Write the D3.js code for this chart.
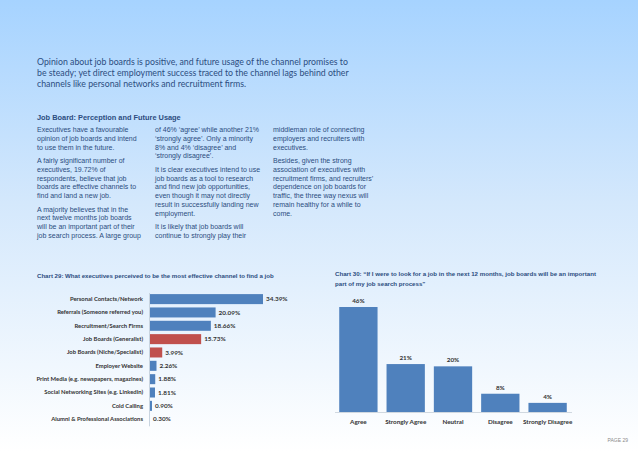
<!DOCTYPE html>
<html>
<head>
<meta charset="utf-8">
<script src="https://cdn.jsdelivr.net/npm/d3@7"></script>
<style>
  body { margin: 0; padding: 0; }
  svg { display: block; }
</style>
</head>
<body>
<div id="chart"></div>
<script>
// chart 29 data
const channels = ["Personal Contacts/Network", "Referrals (Someone referred you)", "Recruitment/Search Firms",
  "Job Boards (Generalist)", "Job Boards (Niche/Specialist)", "Employer Website",
  "Print Media (e.g. newspapers, magazines)", "Social Networking Sites (e.g. Linkedin)", "Cold Calling",
  "Alumni & Professional Associations"];
const channelValues = [34.39, 20.09, 18.66, 15.73, 3.99, 2.26, 1.88, 1.81, 0.90, 0.30];
const highlighted = ["Job Boards (Generalist)", "Job Boards (Niche/Specialist)"];

// chart 30 data
const answers = ["Agree", "Strongly Agree", "Neutral", "Disagree", "Strongly Disagree"];
const answerValues = [46, 21, 20, 8, 4];

const headline = [
  "Opinion about job boards is positive, and future usage of the channel promises to",
  "be steady; yet direct employment success traced to the channel lags behind other",
  "channels like personal networks and recruitment firms."
];
const columns = [
  [["Executives have a favourable", "opinion of job boards and intend", "to use them in the future."],
   ["A fairly significant number of", "executives, 19.72% of", "respondents, believe that job",
    "boards are effective channels to", "find and land a new job."],
   ["A majority believes that in the", "next twelve months job boards", "will be an important part of their",
    "job search process. A large group"]],
  [["of 46% \u2018agree\u2019 while another 21%", "\u2018strongly agree\u2019. Only a minority",
    "8% and 4% \u2018disagree\u2019 and", "\u2018strongly disagree\u2019."],
   ["It is clear executives intend to use", "job boards as a tool to research", "and find new job opportunities,",
    "even though it may not directly", "result in successfully landing new", "employment."],
   ["It is likely that job boards will", "continue to strongly play their"]],
  [["middleman role of connecting", "employers and recruiters with", "executives."],
   ["Besides, given the strong", "association of executives with", "recruitment firms, and recruiters\u2019",
    "dependence on job boards for", "traffic, the three way nexus will", "remain healthy for a while to", "come."]]
];

const W = 638, H = 451;
const textBlue = "#2c4d80";
const blue = "#4f81bd", red = "#c0504d";
const calibri = "Lato, 'Open Sans', sans-serif";
const arial = "'Liberation Sans', Arial, sans-serif";

const svg = d3.select("#chart").append("svg")
  .attr("width", W).attr("height", H);

const grad = svg.append("defs").append("linearGradient")
  .attr("id", "bg").attr("x1", 0).attr("y1", 0).attr("x2", 0).attr("y2", 1);
grad.append("stop").attr("offset", "0%").attr("stop-color", "#a6d3ff");
grad.append("stop").attr("offset", "45%").attr("stop-color", "#d4e8fc");
grad.append("stop").attr("offset", "100%").attr("stop-color", "#ffffff");
svg.append("rect").attr("width", W).attr("height", H).attr("fill", "url(#bg)");

// headline (Lato is wider than Calibri, so squeeze it a bit)
svg.append("g").attr("transform", "translate(37,0) scale(0.86,1)")
  .selectAll("text").data(headline).join("text")
  .attr("x", 0).attr("y", (d, i) => 65 + i * 11.2)
  .attr("font-family", calibri).attr("font-size", 10.2)
  .attr("fill", textBlue).text(d => d);

svg.append("text").attr("x", 37).attr("y", 120)
  .attr("font-family", arial).attr("font-size", 7.4).attr("font-weight", "bold")
  .attr("fill", textBlue).text("Job Board: Perception and Future Usage");

// body columns
const colX = [37, 155, 273];
columns.forEach((paras, ci) => {
  let y = 132;
  paras.forEach(lines => {
    lines.forEach(line => {
      svg.append("text").attr("x", colX[ci]).attr("y", y)
        .attr("font-family", arial).attr("font-size", 7)
        .attr("fill", textBlue).text(line);
      y += 8.8;
    });
    y += 4.6;
  });
});

// ---- chart 29 ----
svg.append("text").attr("x", 37).attr("y", 278)
  .attr("font-family", arial).attr("font-size", 6.1).attr("font-weight", "bold")
  .attr("fill", textBlue)
  .text("Chart 29: What executives perceived to be the most effective channel to find a job");

const x29 = d3.scaleLinear().domain([0, 34.39]).range([149, 263]);
const y29 = d3.scaleBand().domain(channels).range([292.5, 425.8]).paddingInner(0.25).paddingOuter(0.12);

const g29 = svg.append("g");
g29.selectAll("rect").data(channels).join("rect")
  .attr("x", x29(0)).attr("y", d => y29(d))
  .attr("width", (d, i) => x29(channelValues[i]) - x29(0))
  .attr("height", y29.bandwidth())
  .attr("fill", d => highlighted.includes(d) ? red : blue);

g29.selectAll("text.val").data(channels).join("text").attr("class", "val")
  .attr("x", (d, i) => x29(channelValues[i]) + 3)
  .attr("y", d => y29(d) + y29.bandwidth() / 2)
  .attr("dy", "0.35em")
  .attr("font-family", calibri).attr("font-size", 6.4).attr("font-weight", "bold")
  .attr("fill", "#333").text((d, i) => channelValues[i].toFixed(2) + "%");

const axis29 = svg.append("g").attr("transform", `translate(${x29(0)},0)`)
  .call(d3.axisLeft(y29).tickSize(0).tickPadding(6));
axis29.select(".domain").attr("stroke", "#c8d4e0");
axis29.selectAll("text").attr("font-family", calibri).attr("font-size", 6.2)
  .attr("font-weight", "bold").attr("fill", "#333")
  .attr("transform", function () { return "scale(0.95,1)"; })
  .attr("x", -6 / 0.95);

// ---- chart 30 ----
const t30 = svg.append("text").attr("font-family", arial).attr("font-size", 6.15)
  .attr("font-weight", "bold").attr("fill", textBlue);
t30.append("tspan").attr("x", 335).attr("y", 276)
  .text("Chart 30: \u201cIf I were to look for a job in the next 12 months, job boards will be an important");
t30.append("tspan").attr("x", 335).attr("y", 286).text("part of my job search process\u201d");

const x30 = d3.scaleBand().domain(answers).range([334.5, 571.5]).paddingInner(0.19).paddingOuter(0.1);
const y30 = d3.scaleLinear().domain([0, 46]).range([412, 307]);

const g30 = svg.append("g");
g30.selectAll("rect").data(answers).join("rect")
  .attr("x", d => x30(d)).attr("y", (d, i) => y30(answerValues[i]))
  .attr("width", x30.bandwidth())
  .attr("height", (d, i) => y30(0) - y30(answerValues[i]))
  .attr("fill", blue);

g30.selectAll("text.val").data(answers).join("text").attr("class", "val")
  .attr("x", d => x30(d) + x30.bandwidth() / 2)
  .attr("y", (d, i) => y30(answerValues[i]) - 4)
  .attr("text-anchor", "middle")
  .attr("font-family", calibri).attr("font-size", 6.3).attr("font-weight", "bold")
  .attr("fill", "#333").text((d, i) => answerValues[i] + "%");

const axis30 = svg.append("g").attr("transform", `translate(0,${y30(0)})`)
  .call(d3.axisBottom(x30).tickSize(0).tickPadding(8).tickSizeOuter(0));
axis30.select(".domain").attr("stroke", "#d0d8e0");
axis30.selectAll("text").attr("font-family", calibri).attr("font-size", 6.3)
  .attr("font-weight", "bold").attr("fill", "#333");

// page number
svg.append("text").attr("x", 628).attr("y", 442).attr("text-anchor", "end")
  .attr("font-family", arial).attr("font-size", 5).attr("fill", "#8a8a8a")
  .text("PAGE  29");
</script>
</body>
</html>
